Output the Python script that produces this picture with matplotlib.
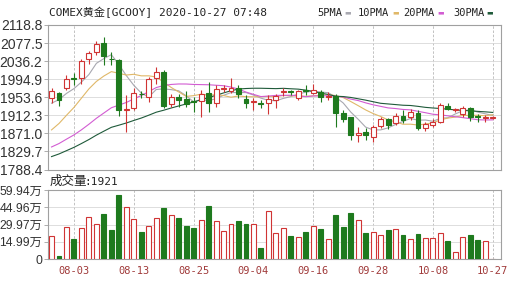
import pandas as pd
import matplotlib.pyplot as plt

# daily candles, COMEX gold, 60 sessions
opens = [1953, 1964, 1975, 1997, 1997, 2041, 2056, 2077, 2042, 2039,
         1924, 1928, 1962, 1955, 1997, 2012, 1938, 1955, 1950, 1944,
         1944, 1963, 1941, 1973, 1968, 1975, 1950, 1942, 1941, 1941,
         1947, 1965, 1967, 1951, 1971, 1964, 1966, 1955, 1956, 1917,
         1908, 1867, 1875, 1863, 1888, 1903, 1895, 1911, 1909, 1917,
         1883, 1890, 1898, 1934, 1925, 1915, 1928, 1910, 1906, 1907]
highs = [1974, 1966, 2004, 2010, 2040, 2059, 2082, 2092, 2058, 2040,
         1959, 1974, 1969, 2001, 2023, 2016, 1961, 1961, 1969, 1955,
         1970, 1989, 1982, 1982, 1997, 1982, 1959, 1953, 1947, 1959,
         1961, 1974, 1970, 1971, 1982, 1985, 1970, 1966, 1961, 1924,
         1909, 1886, 1883, 1890, 1908, 1907, 1917, 1924, 1926, 1924,
         1898, 1903, 1940, 1940, 1930, 1934, 1931, 1915, 1912, 1911]
lows = [1940, 1933, 1970, 1982, 1985, 2029, 2050, 2027, 2027, 1911,
        1875, 1924, 1951, 1943, 1985, 1928, 1931, 1931, 1931, 1920,
        1909, 1920, 1931, 1966, 1964, 1951, 1928, 1924, 1930, 1916,
        1928, 1956, 1958, 1948, 1959, 1960, 1943, 1947, 1886, 1898,
        1857, 1852, 1856, 1852, 1883, 1880, 1890, 1895, 1902, 1879,
        1876, 1886, 1895, 1924, 1921, 1909, 1900, 1898, 1898, 1903]
closes = [1968, 1947, 1995, 1995, 2037, 2054, 2075, 2049, 2040, 1925,
          1927, 1964, 1960, 1995, 2011, 1934, 1955, 1947, 1938, 1942,
          1961, 1940, 1972, 1975, 1974, 1961, 1940, 1944, 1939, 1949,
          1956, 1967, 1965, 1969, 1969, 1970, 1955, 1957, 1918, 1903,
          1867, 1872, 1867, 1886, 1903, 1890, 1911, 1902, 1920, 1883,
          1892, 1897, 1936, 1926, 1927, 1928, 1909, 1908, 1907, 1908]
# closes before the visible window (needed for the moving averages)
prior_closes = [1765, 1770, 1768, 1775, 1780, 1772, 1778, 1776, 1780, 1776,
                1790, 1795, 1800, 1805, 1798, 1803, 1808, 1800, 1805, 1806,
                1800, 1808, 1815, 1825, 1842, 1905, 1925, 1940, 1962]
# volume in 万
volumes = [20.0, 2.6, 27.8, 17.4, 26.6, 36.5, 30.4, 39.1, 25.2, 55.9,
           45.2, 34.8, 23.7, 28.7, 35.6, 44.3, 38.2, 35.6, 29.0, 26.9,
           33.9, 46.3, 33.0, 24.3, 30.4, 33.0, 30.7, 30.4, 9.3, 41.4,
           22.3, 26.6, 20.0, 18.8, 23.5, 28.4, 26.1, 17.4, 38.2, 27.5,
           40.0, 33.6, 22.6, 23.2, 20.9, 24.9, 25.8, 20.9, 17.1, 21.7,
           18.0, 18.0, 22.3, 15.6, 6.1, 18.8, 20.6, 16.5, 15.6, 0.19]
tick_index = [3, 11, 19, 27, 35, 43, 51, 59]
tick_labels = ['08-03', '08-13', '08-25', '09-04', '09-16', '09-28', '10-08', '10-27']
price_ticks = [1788.4, 1829.7, 1871.0, 1912.3, 1953.6, 1994.9, 2036.2, 2077.5, 2118.8]
vol_ticks = [0, 14.99, 29.97, 44.96, 59.94]
vol_tick_labels = ['0', '14.99万', '29.97万', '44.96万', '59.94万']
ma_periods = [5, 10, 20, 30]
ma_colors = ['#a8a8b0', '#e0b868', '#d25cd2', '#1f5a3a']

RED = '#d03434'
GREEN = '#1e7a1e'
NUM_FONT = ['Liberation Sans', 'Noto Sans CJK SC']
MONO_FONT = ['DejaVu Sans Mono', 'Noto Sans CJK SC']

df = pd.DataFrame({'open': opens, 'high': highs, 'low': lows,
                   'close': closes, 'volume': volumes})
up = df['close'] >= df['open']
n = len(df)
x = list(range(n))

all_closes = pd.Series(prior_closes + closes)
ma = {p: all_closes.rolling(p).mean().iloc[len(prior_closes):].values
      for p in ma_periods}

fig = plt.figure(figsize=(5.13, 2.84), dpi=100)
ax = fig.add_axes([0.0936, 0.403, 0.883, 0.509])
axv = fig.add_axes([0.0936, 0.088, 0.883, 0.243])

for a in (ax, axv):
    a.set_xlim(-0.47, 60.1)
    for s in a.spines.values():
        s.set_color('#a0a0a0')
        s.set_linewidth(0.8)
    for t in tick_index:
        a.axvline(t, color='#b8b8b8', lw=0.6, ls=(0, (3, 2)), zorder=0)
    a.tick_params(axis='y', length=3, width=0.6, color='#a0a0a0',
                  labelcolor='#333333', pad=1)
    a.tick_params(axis='x', length=0)

# price panel
ax.set_ylim(price_ticks[0], price_ticks[-1])
ax.set_yticks(price_ticks)
ax.set_yticklabels([f'{v:.1f}' for v in price_ticks], family=NUM_FONT,
                   fontsize=10)
ax.grid(axis='y', color='#d8d8d8', lw=0.6, zorder=0)
ax.set_xticks([])

for p, c in zip(ma_periods, ma_colors):
    ax.plot(x, ma[p], color=c, lw=0.8, zorder=2)

body_w = 0.66
for i in x:
    o, h, l, c = df.loc[i, ['open', 'high', 'low', 'close']]
    col = RED if up[i] else GREEN
    ax.vlines(i, l, h, color=col, lw=0.8, zorder=3)
    bottom = min(o, c)
    height = max(abs(c - o), 1.6)
    ax.bar(i, height, bottom=bottom, width=body_w,
           facecolor='white' if up[i] else GREEN,
           edgecolor=col, lw=0.8, zorder=4)

# volume panel
axv.set_ylim(0, vol_ticks[-1])
axv.set_yticks(vol_ticks)
axv.set_yticklabels(vol_tick_labels, family=NUM_FONT, fontsize=8.8)
axv.grid(axis='y', color='#d8d8d8', lw=0.6, zorder=0)
axv.bar(x, df['volume'], width=body_w,
        color=['white' if u else GREEN for u in up],
        edgecolor=[RED if u else GREEN for u in up], lw=0.8, zorder=3)
axv.set_xticks(tick_index)
axv.set_xticklabels(tick_labels, family=MONO_FONT, fontsize=7.5,
                    color='#a03a3a')
axv.tick_params(axis='x', pad=5)

# texts
fig.text(0.095, 0.958, 'COMEX黄金[GCOOY] 2020-10-27 07:48', family=MONO_FONT,
         fontsize=8, color='#222222', va='center')
legend_x = [0.618, 0.698, 0.787, 0.883]
for lx, p, c in zip(legend_x, ma_periods, ma_colors):
    fig.text(lx, 0.955, f'{p}PMA', family=MONO_FONT, fontsize=7.5,
             color='#222222', va='center')
    fig.text(lx + 0.054 + (0.012 if p >= 10 else 0), 0.955, '▬',
             color=c, fontsize=5, va='center')
fig.text(0.097, 0.36, '成交量', family=MONO_FONT, fontsize=9,
         color='#222222', va='center')
fig.text(0.165, 0.36, ':1921', family=MONO_FONT, fontsize=8,
         color='#222222', va='center')

plt.savefig('out.png', dpi=100)
